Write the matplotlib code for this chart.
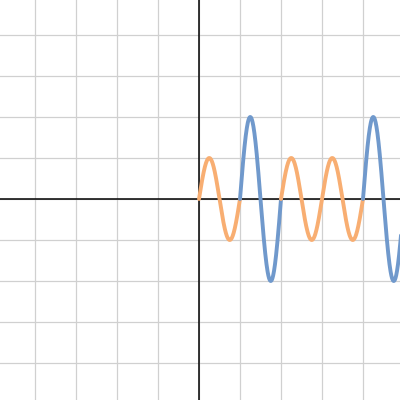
import numpy as np
import matplotlib
matplotlib.use("Agg")
import matplotlib.pyplot as plt

# piecewise segments: start, end, amplitude, colour
seg_start = [0, 1, 2, 4]
seg_end = [1, 2, 4, 5]
seg_amp = [1, 2, 1, 2]
seg_color = ["#f8ae72", "#7099cc", "#f8ae72", "#7099cc"]

fig = plt.figure(figsize=(4, 4), dpi=100)
ax = fig.add_axes([0, 0, 1, 1])
ax.set_xlim(-199/41, 201/41)
ax.set_ylim(-201/41, 199/41)
for g in range(-5, 6):
    ax.axvline(g, color="#d0d0d0", lw=0.9, zorder=0)
    ax.axhline(g, color="#d0d0d0", lw=0.9, zorder=0)
ax.axvline(0, color="black", lw=1.1, zorder=1)
ax.axhline(0, color="black", lw=1.1, zorder=1)
for s, e, a, c in zip(seg_start, seg_end, seg_amp, seg_color):
    x = np.linspace(s, e, 300)
    ax.plot(x, a*np.sin(2*np.pi*x), color=c, lw=2.8, solid_capstyle="round", zorder=2)
ax.set_xticks([]); ax.set_yticks([])
for sp in ax.spines.values():
    sp.set_visible(False)
fig.savefig("out.png")
